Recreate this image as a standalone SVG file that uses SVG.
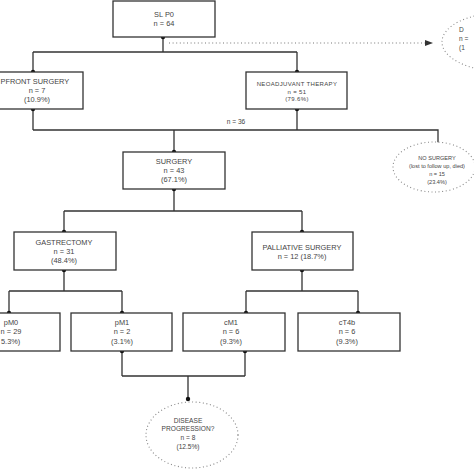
<svg xmlns="http://www.w3.org/2000/svg" width="474" height="474" viewBox="0 0 474 474">
<defs>
<style>
.box{fill:#fff;stroke:#333;stroke-width:1.3}
.ln{fill:none;stroke:#333;stroke-width:1.3}
.dot{fill:#111}
.dash{fill:none;stroke:#777;stroke-width:1.1;stroke-dasharray:1 2.6}
.ell{fill:#fff;stroke:#888;stroke-width:1.1;stroke-dasharray:1 2.6}
text{font-family:"Liberation Sans",Arial,sans-serif;font-size:7.4px;fill:#444;text-anchor:middle}
.sm{font-size:5.6px}
.md{font-size:6.6px}
.neo{font-size:6px;letter-spacing:0.35px}
.st{text-anchor:start}
</style>
<marker id="arr" markerWidth="8" markerHeight="6" refX="7" refY="3" orient="auto" markerUnits="userSpaceOnUse">
<path d="M0,0 L8,3 L0,6 Z" fill="#333"/>
</marker>
</defs>
<rect width="474" height="474" fill="#fff"/>
<g id="connectors">
<path class="ln" d="M163,37 V52 M33,52 H297 M33,52 V72 M297,52 V72"/>
<path class="dash" d="M169,43 H432" marker-end="url(#arr)"/>
<path class="ln" d="M33,109 V130 M297,109 V130 M33,130 H438 V152 M174,130 V152"/>
<path class="ln" d="M174,189 V211 M64,211 H302 M64,211 V232 M302,211 V232"/>
<path class="ln" d="M64,270 V291 M9,291 H122 M9,291 V313 M122,291 V313"/>
<path class="ln" d="M302,270 V291 M246,291 H358 M246,291 V313 M358,291 V313"/>
<path class="ln" d="M122,351 V376 M245,351 V376 M122,376 H245 M188,376 V399"/>
<circle class="dot" cx="163" cy="37" r="2.2"/>
<circle class="dot" cx="33" cy="72" r="2.2"/>
<circle class="dot" cx="297" cy="72" r="2.2"/>
<circle class="dot" cx="33" cy="109" r="2.2"/>
<circle class="dot" cx="297" cy="109" r="2.2"/>
<circle class="dot" cx="174" cy="152" r="2.2"/>
<circle class="dot" cx="174" cy="189" r="2.2"/>
<circle class="dot" cx="438" cy="152" r="2.2"/>
<circle class="dot" cx="64" cy="232" r="2.2"/>
<circle class="dot" cx="302" cy="232" r="2.2"/>
<circle class="dot" cx="64" cy="270" r="2.2"/>
<circle class="dot" cx="302" cy="270" r="2.2"/>
<circle class="dot" cx="9" cy="313" r="2.2"/>
<circle class="dot" cx="122" cy="313" r="2.2"/>
<circle class="dot" cx="246" cy="313" r="2.2"/>
<circle class="dot" cx="358" cy="313" r="2.2"/>
<circle class="dot" cx="122" cy="351" r="2.2"/>
<circle class="dot" cx="245" cy="351" r="2.2"/>
<circle class="dot" cx="188" cy="399" r="2.2"/>
<text class="md" x="236" y="124">n = 36</text>
</g>
<g id="slp0"><rect class="box" x="113" y="1" width="102" height="36"/><text x="164" y="17">SL P0</text><text x="164" y="26">n = 64</text></g>
<g id="upfront"><rect class="box" x="-18" y="72" width="101" height="37"/><text class="st" x="0.5" y="84">PFRONT SURGERY</text><text x="37" y="93">n = 7</text><text x="37" y="102">(10.9%)</text></g>
<g id="neoadjuvant"><rect class="box" x="246" y="72" width="101" height="37"/><text class="neo" x="297" y="86">NEOADJUVANT  THERAPY</text><text class="neo" x="297" y="94">n = 51</text><text class="neo" x="297" y="101">(79.6%)</text></g>
<g id="disease-top"><ellipse class="ell" cx="500" cy="42" rx="58" ry="29"/><text class="st md" x="459" y="32">D</text><text class="st md" x="459" y="41">n =</text><text class="st md" x="459" y="50">(1</text></g>
<g id="surgery"><rect class="box" x="123" y="152" width="102" height="37"/><text x="174" y="164">SURGERY</text><text x="174" y="173">n = 43</text><text x="174" y="182">(67.1%)</text></g>
<g id="no-surgery"><ellipse class="ell" cx="434" cy="167" rx="41" ry="25"/><text class="sm" x="437" y="160">NO SURGERY</text><text class="sm" x="437" y="168">(lost to follow up, died)</text><text class="sm" x="437" y="176">n = 15</text><text class="sm" x="437" y="184">(23.4%)</text></g>
<g id="gastrectomy"><rect class="box" x="14" y="232" width="102" height="38"/><text x="64" y="245">GASTRECTOMY</text><text x="64" y="254">n = 31</text><text x="64" y="263">(48.4%)</text></g>
<g id="palliative"><rect class="box" x="252" y="232" width="101" height="38"/><text x="302" y="250">PALLIATIVE SURGERY</text><text x="302" y="259">n = 12 (18.7%)</text></g>
<g id="pm0"><rect class="box" x="-42" y="313" width="102" height="38"/><text x="11" y="325">pM0</text><text x="11" y="334">n = 29</text><text class="st" x="1" y="344">5.3%)</text></g>
<g id="pm1"><rect class="box" x="71" y="313" width="101" height="38"/><text x="122" y="325">pM1</text><text x="122" y="334">n = 2</text><text x="122" y="344">(3.1%)</text></g>
<g id="cm1"><rect class="box" x="183" y="313" width="102" height="38"/><text x="231" y="325">cM1</text><text x="231" y="334">n = 6</text><text x="231" y="344">(9.3%)</text></g>
<g id="ct4b"><rect class="box" x="298" y="313" width="102" height="38"/><text x="347" y="325">cT4b</text><text x="347" y="334">n = 6</text><text x="347" y="344">(9.3%)</text></g>
<g id="disease-bottom"><ellipse class="ell" cx="192" cy="435" rx="46" ry="33"/><text class="md" x="188" y="423">DISEASE</text><text class="md" x="188" y="431">PROGRESSION?</text><text class="md" x="188" y="440">n = 8</text><text class="md" x="188" y="449">(12.5%)</text></g>
</svg>
